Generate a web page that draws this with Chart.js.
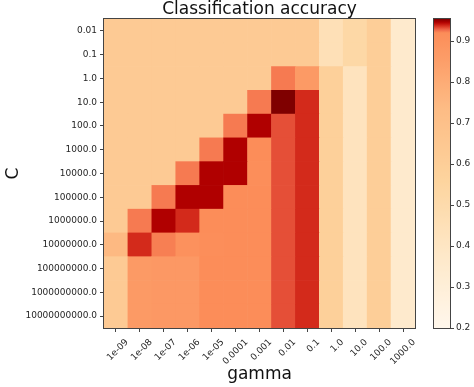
<!DOCTYPE html>
<html>
<head>
<meta charset="utf-8">
<script src="https://cdn.jsdelivr.net/npm/chart.js@4.4.1/dist/chart.umd.min.js"></script>
<style>
  html, body { margin: 0; padding: 0; background: #fff; }
  #wrap { position: relative; width: 474px; height: 387px; }
  #heat { position: absolute; left: 0; top: 0; }
  #cbar { position: absolute; left: 420px; top: 0; }
</style>
</head>
<body>
<div id="wrap">
  <canvas id="heat" width="430" height="387"></canvas>
  <canvas id="cbar" width="54" height="387"></canvas>
</div>
<script>
// --- Data ---
const gammaLabels = ['1e-09', '1e-08', '1e-07', '1e-06', '1e-05', '0.0001', '0.001', '0.01', '0.1', '1.0', '10.0', '100.0', '1000.0'];
const cLabels = ['0.01', '0.1', '1.0', '10.0', '100.0', '1000.0', '10000.0', '100000.0', '1000000.0',
                 '10000000.0', '100000000.0', '1000000000.0', '10000000000.0'];

// accuracy rows, top (C = 0.01) to bottom (C = 1e10), columns follow gammaLabels
const scores = [
    [0.632, 0.632, 0.632, 0.632, 0.632, 0.632, 0.632, 0.632, 0.632, 0.452, 0.524, 0.600, 0.356],
    [0.632, 0.632, 0.632, 0.632, 0.632, 0.632, 0.632, 0.632, 0.632, 0.452, 0.524, 0.600, 0.356],
    [0.632, 0.632, 0.632, 0.632, 0.632, 0.632, 0.632, 0.924, 0.870, 0.589, 0.425, 0.600, 0.356],
    [0.632, 0.632, 0.632, 0.632, 0.632, 0.632, 0.924, 0.954, 0.938, 0.589, 0.425, 0.600, 0.356],
    [0.632, 0.632, 0.632, 0.632, 0.632, 0.924, 0.946, 0.932, 0.938, 0.589, 0.425, 0.600, 0.356],
    [0.632, 0.632, 0.632, 0.632, 0.924, 0.946, 0.920, 0.932, 0.938, 0.589, 0.425, 0.600, 0.356],
    [0.632, 0.632, 0.632, 0.924, 0.946, 0.946, 0.915, 0.932, 0.938, 0.589, 0.425, 0.600, 0.356],
    [0.632, 0.632, 0.924, 0.946, 0.946, 0.920, 0.920, 0.932, 0.938, 0.589, 0.425, 0.600, 0.356],
    [0.632, 0.924, 0.946, 0.938, 0.920, 0.920, 0.920, 0.932, 0.938, 0.589, 0.425, 0.600, 0.356],
    [0.747, 0.938, 0.923, 0.905, 0.915, 0.920, 0.920, 0.932, 0.938, 0.589, 0.425, 0.600, 0.356],
    [0.632, 0.870, 0.875, 0.875, 0.920, 0.920, 0.920, 0.932, 0.938, 0.589, 0.425, 0.600, 0.356],
    [0.632, 0.870, 0.875, 0.875, 0.920, 0.920, 0.920, 0.932, 0.938, 0.589, 0.425, 0.600, 0.356],
    [0.632, 0.870, 0.875, 0.875, 0.920, 0.920, 0.920, 0.932, 0.938, 0.589, 0.425, 0.600, 0.356]
];

const cbarTicks = [0.2, 0.3, 0.4, 0.5, 0.6, 0.7, 0.8, 0.9];
const VMIN = 0.2, MIDPOINT = 0.92, VMAX = 0.954;

// --- Colour map (OrRd with midpoint normalisation) ---
const ORRD = ['#fff7ec', '#fee8c8', '#fdd49e', '#fdbb84', '#fc8d59', '#ef6548', '#d7301f', '#b30000', '#7f0000'];
const orrdRgb = ORRD.map(h => [1, 3, 5].map(i => parseInt(h.substr(i, 2), 16)));

function norm(v) {
    if (v <= MIDPOINT) return 0.5 * (v - VMIN) / (MIDPOINT - VMIN);
    return 0.5 + 0.5 * (v - MIDPOINT) / (VMAX - MIDPOINT);
}

function colorFor(v) {
    const t = Math.max(0, Math.min(1, norm(v)));
    const s = t * (orrdRgb.length - 1);
    const i = Math.min(Math.floor(s), orrdRgb.length - 2);
    const f = s - i;
    const c = orrdRgb[i].map((a, k) => Math.round(a + (orrdRgb[i + 1][k] - a) * f));
    return `rgb(${c[0]},${c[1]},${c[2]})`;
}

Chart.defaults.font.family = "'DejaVu Sans', sans-serif";
const tickFont = { size: 9 };
const tickColor = '#262626';
const lineColor = '#444';

const framePlugin = {
    id: 'frame',
    afterDraw(chart) {
        const { ctx, chartArea: a } = chart;
        ctx.save();
        ctx.strokeStyle = lineColor;
        ctx.lineWidth = 1;
        ctx.strokeRect(Math.round(a.left) - 0.5, Math.round(a.top) - 0.5,
                       Math.round(a.right - a.left) + 1, Math.round(a.bottom - a.top) + 1);
        ctx.restore();
    }
};

// --- Heatmap: one stacked dataset per C row, bottom row first ---
const datasets = scores.map((row, r) => ({
    label: cLabels[r],
    data: row.map(() => 1),
    backgroundColor: row.map(colorFor),
    borderWidth: 0,
    barPercentage: 1,
    categoryPercentage: 1
})).reverse();

new Chart(document.getElementById('heat'), {
    type: 'bar',
    data: { labels: gammaLabels, datasets: datasets },
    options: {
        responsive: false,
        animation: false,
        layout: { padding: { left: 0, right: 15, top: 0, bottom: 0 } },
        plugins: {
            legend: { display: false },
            tooltip: { enabled: false },
            title: {
                display: true, text: 'Classification accuracy', fullSize: false, color: '#111',
                font: { size: 17, weight: 'normal', lineHeight: 1.12 }, padding: { top: 0, bottom: 0 }
            }
        },
        scales: {
            x: {
                stacked: true,
                ticks: { minRotation: 45, maxRotation: 45, labelOffset: 11, padding: 5, font: tickFont, color: tickColor, autoSkip: false },
                grid: { offset: false, drawOnChartArea: false, tickLength: 4, color: lineColor },
                border: { display: false },
                title: { display: true, text: 'gamma', color: '#111', font: { size: 17 }, padding: { top: 0, bottom: 2 } },
                afterFit: s => { s.height = 59; }
            },
            y: {
                stacked: true,
                min: 0,
                max: cLabels.length,
                afterBuildTicks: s => { s.ticks = cLabels.map((_, i) => ({ value: i + 0.5 })); },
                ticks: { callback: (v, i) => cLabels[cLabels.length - 1 - i], padding: 3, font: tickFont, color: tickColor },
                grid: { drawOnChartArea: false, tickLength: 4, color: lineColor },
                border: { display: false },
                title: { display: true, text: 'C', color: '#111', font: { size: 17 }, padding: { top: 3, bottom: 0 } },
                afterFit: s => { s.width = 104; }
            }
        }
    },
    plugins: [framePlugin]
});

// --- Colour bar ---
const gradientPlugin = {
    id: 'gradient',
    beforeDatasetsDraw(chart) {
        const { ctx, chartArea: a, scales: { y } } = chart;
        const grad = ctx.createLinearGradient(0, a.bottom, 0, a.top);
        for (let k = 0; k <= 200; k++) {
            const v = VMIN + (VMAX - VMIN) * k / 200;
            const pos = (y.getPixelForValue(v) - a.bottom) / (a.top - a.bottom);
            grad.addColorStop(Math.max(0, Math.min(1, pos)), colorFor(v));
        }
        ctx.save();
        ctx.fillStyle = grad;
        ctx.fillRect(a.left, a.top, a.right - a.left, a.bottom - a.top);
        ctx.restore();
    }
};

new Chart(document.getElementById('cbar'), {
    type: 'bar',
    data: { labels: [''], datasets: [] },
    options: {
        responsive: false,
        animation: false,
        layout: { padding: { left: 14, right: 0, top: 19, bottom: 59 } },
        plugins: { legend: { display: false }, tooltip: { enabled: false } },
        scales: {
            x: { display: false },
            y: {
                position: 'right',
                min: VMIN,
                max: VMAX,
                afterBuildTicks: s => { s.ticks = cbarTicks.map(v => ({ value: v })); },
                ticks: { callback: v => v.toFixed(1), padding: 2, font: tickFont, color: tickColor },
                grid: { drawOnChartArea: false, tickLength: 4, color: lineColor },
                border: { display: false },
                afterFit: s => { s.width = 24; }
            }
        }
    },
    plugins: [gradientPlugin, framePlugin]
});
</script>
</body>
</html>
